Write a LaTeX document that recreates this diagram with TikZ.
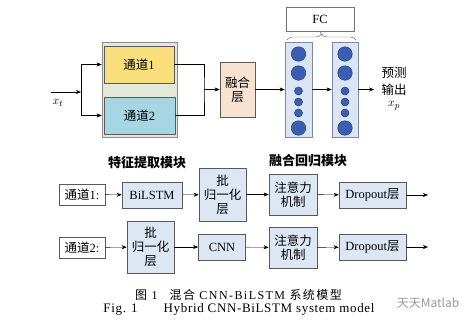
\documentclass[tikz,border=0pt]{standalone}
\usepackage{fontspec}
\setmainfont{Liberation Serif}
\newfontfamily\cjk{Noto Sans CJK SC}
\newfontfamily\cjkwide{Noto Sans CJK SC}[LetterSpace=12]
\newfontfamily\serifwide{Liberation Serif}[LetterSpace=12]
\newfontfamily\capserif{Liberation Serif}[LetterSpace=5]
\usepackage{tikz}
\usetikzlibrary{arrows.meta}
\usetikzlibrary{decorations.pathreplacing}
\usepackage{xcolor}
\definecolor{frameFill}{HTML}{E3E8D8}
\definecolor{chanYellow}{HTML}{F8DF7B}
\definecolor{chanBlue}{HTML}{A6D5E4}
\definecolor{fuseFill}{HTML}{F8E3D3}
\definecolor{colFill}{HTML}{DBE5F3}
\definecolor{colLine}{HTML}{7D8AA0}
\definecolor{neuronFill}{HTML}{3A5FB0}
\definecolor{neuronLine}{HTML}{23407F}
\definecolor{blockFill}{HTML}{DDE7F3}
\newcommand{\zh}[1]{{\cjk #1}}
\newcommand{\zhw}[1]{{\cjkwide #1}}
\newcommand{\boxfont}{\fontsize{12.5}{14}\selectfont}

\begin{document}
\begin{tikzpicture}[x=1pt,y=-1pt,
  font=\boxfont,
  arr/.style={-{Stealth[length=5pt,width=4pt]}},
  bx/.style={draw=black!65,line width=0.7pt,inner sep=0pt,align=center},
  chan/.style={bx,minimum width=70pt,minimum height=37pt},
  layer/.style={draw=colLine,line width=0.7pt,fill=colFill,minimum width=27pt,minimum height=95pt,inner sep=0pt},
  neuron/.style={circle,draw=neuronLine,fill=neuronFill,inner sep=0pt,line width=0.5pt},
  blk/.style={bx,fill=blockFill},
  heading/.style={font=\fontsize{13}{15}\selectfont\cjk\bfseries}]
\useasboundingbox (0,0) rectangle (474,333);
% upper part
\node[bx,draw=black!45,fill=frameFill,minimum width=75pt,minimum height=95pt] (frame) at (139.5,89.5) {};
\node[chan,fill=chanYellow] (ch1) at (139,64.5) {\zh{通道}1};
\node[chan,fill=chanBlue,minimum width=71pt] (ch2) at (139.5,115.5) {\zh{通道}2};
\node[bx,fill=fuseFill,minimum width=35pt,minimum height=55pt] (fuse) at (237.5,89.5) {\zh{融合}\\\zh{层}};
\node[bx,draw=black!55,minimum width=68pt,minimum height=24pt] (fc) at (320,19) {FC};
\node[layer] (col1) at (298.5,89.5) {};
\node[layer,minimum width=26pt] (col2) at (345,89.5) {};
\foreach \cx in {298.5,345}
  \foreach \cy/\cd in {54/14.5,73/14.5,91/8,102/8,113/8,128/14.5}
    \node[neuron,minimum size=\cd pt] (n-\cx-\cy) at (\cx,\cy) {};
\node (out1) at (394,73) {\zh{预测}};
\node (out2) at (394,89.5) {\zh{输出}};
\node (out3) at (394,106) {$x_p$};
\node (xt) at (58,103) {$x_t$};

\coordinate (xin) at (51,92);
\coordinate (split) at (81,92);
\coordinate (splitT) at (81,64.5);
\coordinate (splitB) at (81,115.5);
\coordinate (join) at (204,89.5);
\coordinate (pred) at (374,89.5);

\draw[arr] (xin) -- (split);
\draw (splitT) -- (splitB);
\draw[arr] (splitT) -- (splitT -| frame.west);
\draw[arr] (splitB) -- (splitB -| frame.west);
\draw (ch1.east) -| (join) |- (ch2.east);
\path[arr] (join) edge (fuse)
  (fuse) edge (col1)
  (col1) edge (col2)
  (col2.east) edge (pred);
\draw[black!60,decorate,decoration={brace,amplitude=6pt}] (287,40) -- (356,40);
\draw[black!60] (321,34) -- (fc.south);

% lower part
\node[heading] (head1) at (147,163) {特征提取模块};
\node[heading] (head2) at (308,161) {融合回归模块};

\node[bx,minimum width=46pt,minimum height=21pt] (in1) at (82,194.5) {\zh{通道}1:};
\node[blk,minimum width=60pt,minimum height=26pt] (bilstm1) at (152,195) {BiLSTM};
\node[blk,minimum width=47pt,minimum height=53pt] (bn1) at (222.5,194.5) {\zh{批}\\\zh{归一化}\\\zh{层}};
\node[blk,minimum width=48pt,minimum height=41pt] (att1) at (293,194.5) {\zh{注意力}\\\zh{机制}};
\node[blk,minimum width=67pt,minimum height=26pt] (drop1) at (372.5,195) {Dropout\zh{层}};
\coordinate (end1) at (428,195);

\node[bx,minimum width=46pt,minimum height=21pt] (in2) at (82,247.5) {\zh{通道}2:};
\node[blk,minimum width=47pt,minimum height=52pt] (bn2) at (150.5,247) {\zh{批}\\\zh{归一化}\\\zh{层}};
\node[blk,minimum width=47pt,minimum height=26pt] (cnn2) at (222,247) {CNN};
\node[blk,minimum width=48pt,minimum height=41pt] (att2) at (293,247.5) {\zh{注意力}\\\zh{机制}};
\node[blk,minimum width=67pt,minimum height=26pt] (drop2) at (372.5,247) {Dropout\zh{层}};
\coordinate (end2) at (428,247);

\path[arr] (in1) edge (bilstm1)
  (bilstm1) edge (bn1)
  (bn1) edge (att1)
  (att1) edge (drop1)
  (drop1) edge (end1);
\path[arr] (in2) edge (bn2)
  (bn2) edge (cnn2)
  (cnn2) edge (att2)
  (att2) edge (drop2)
  (drop2) edge (end2);

% caption
\node[font=\fontsize{12}{14}\selectfont\serifwide] (cap1) at (238.5,295) {\zhw{图} 1\quad\zhw{混合} CNN-BiLSTM \zhw{系统模型}};
\node[font=\fontsize{13}{15}\selectfont\capserif] (cap2) at (239,309) {Fig. 1\quad\quad Hybrid CNN-BiLSTM system model};
\node[font=\fontsize{12}{14}\selectfont\cjk,text=black!40] (mark) at (428,303) {天天Matlab};
\end{tikzpicture}
\end{document}
